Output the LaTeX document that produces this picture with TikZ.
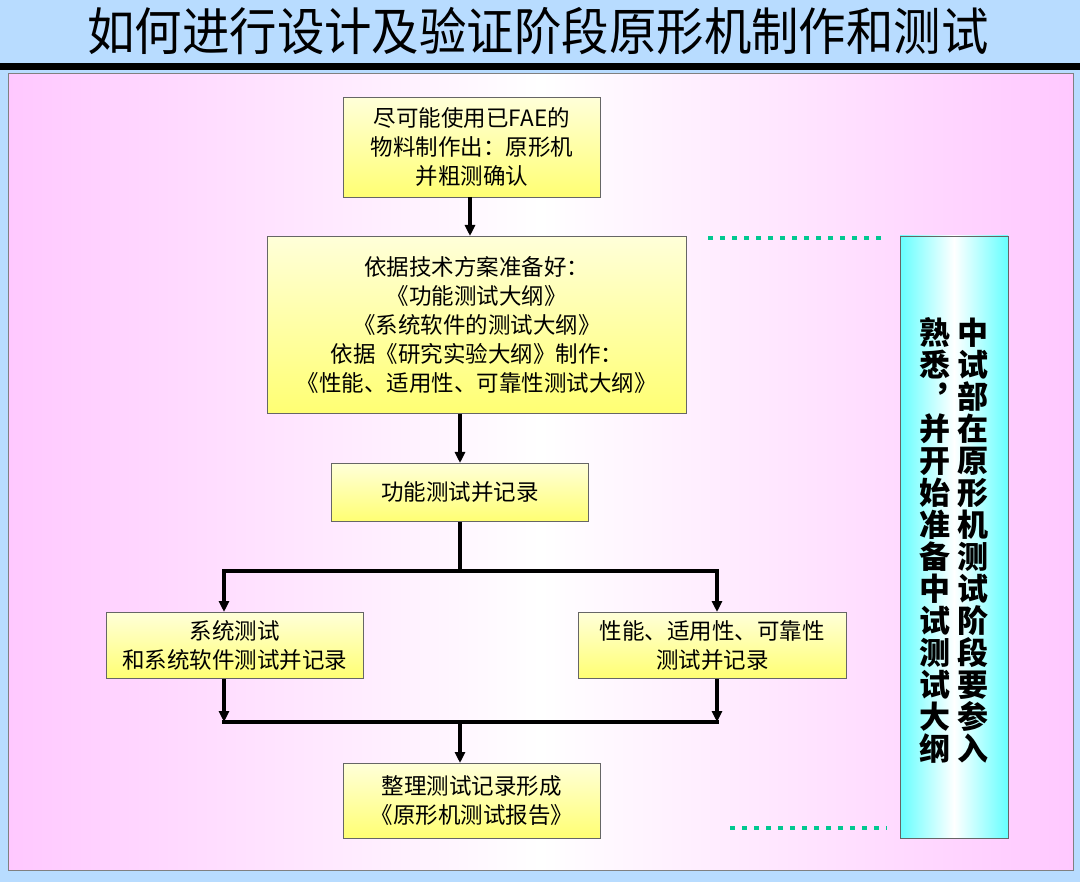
\documentclass[tikz,border=0pt]{standalone}
\usepackage{fontspec}
\setmainfont{Noto Sans CJK SC}
\usetikzlibrary{arrows.meta}
\definecolor{bgblue}{HTML}{B8DCFF}
\definecolor{pinkp}{HTML}{FFC8FF}
\definecolor{teal1}{HTML}{00C890}
\tikzset{
  ybox/.style={draw=black!60,line width=0.8pt,top color=yellow!15,bottom color=yellow!55,
    align=center,font=\fontsize{22.5}{29}\selectfont,inner sep=0pt,anchor=north west},
  arr/.style={line width=3.2pt,-{Triangle[length=11pt,width=10pt]}},
  ln/.style={line width=3.2pt},
  dots/.style={teal1,line width=4pt,dash pattern=on 5pt off 7pt}
}
\begin{document}
\begin{tikzpicture}[x=1pt,y=-1pt]
\fill[bgblue] (0,0) rectangle (1080,882);
\useasboundingbox (0,0) rectangle (1080,882);
\node[font=\fontsize{51}{54}\selectfont,xscale=0.93] (title) at (538,31) {如何进行设计及验证阶段原形机制作和测试};
\fill[black] (0,63) rectangle (1080,70);
\shade[left color=pinkp,right color=pinkp,middle color=white] (8,74) rectangle (1073,870);
\draw[black!50,line width=1pt] (8,74) rectangle (1073,870);
\node[ybox,minimum width=257pt,minimum height=100pt] (b1) at (343,97) {尽可能使用已FAE的\\物料制作出：原形机\\并粗测确认};
\node[ybox,minimum width=419pt,minimum height=177pt] (b2) at (267,236) {依据技术方案准备好：\\《功能测试大纲》\\《系统软件的测试大纲》\\依据《研究实验大纲》制作：\\《性能、适用性、可靠性测试大纲》};
\node[ybox,minimum width=257pt,minimum height=58pt] (b3) at (331,463) {功能测试并记录};
\node[ybox,minimum width=257pt,minimum height=66pt] (b4) at (106,612) {系统测试\\和系统软件测试并记录};
\node[ybox,minimum width=268pt,minimum height=66pt] (b5) at (578,612) {性能、适用性、可靠性\\测试并记录};
\node[ybox,minimum width=257pt,minimum height=75pt] (b6) at (343,763) {整理测试记录形成\\《原形机测试报告》};
\coordinate (s1) at (224,571); \coordinate (s2) at (717,571);
\coordinate (j1) at (224,722); \coordinate (j2) at (717,722);
\draw[arr] (470,197) -- (470,236);
\draw[arr] (b2.south -| 460,0) -- (b3.north -| 460,0);
\draw[ln] (b3.south -| 460,0) -- (460,571);
\draw[ln] ([xshift=-1.6pt]s1) -- ([xshift=1.6pt]s2);
\draw[arr] (s1) -- (b4.north -| s1);
\draw[arr] (s2) -- (b5.north -| s2);
\draw[arr] (b4.south -| j1) -- (j1);
\draw[arr] (b5.south -| j2) -- (j2);
\draw[ln] ([xshift=-1.6pt]j1) -- ([xshift=1.6pt]j2);
\draw[arr] (460,722) -- (b6.north -| 460,0);
\shade[left color=cyan!60,right color=cyan!60,middle color=white] (900,236) rectangle (1008,838);
\draw[black!60,line width=0.8pt] (900,236) rectangle (1008,838);
\node[font=\fontsize{31}{32}\bfseries\selectfont,align=center,anchor=north] (c1) at (973,314) {中\\试\\部\\在\\原\\形\\机\\测\\试\\阶\\段\\要\\参\\入};
\node[font=\fontsize{31}{32}\bfseries\selectfont,align=center,anchor=north] (c2) at (935,314) {熟\\悉\\︐\\并\\开\\始\\准\\备\\中\\试\\测\\试\\大\\纲};
\draw[dots] (708,238) -- (887,238);
\draw[dots] (730,828) -- (887,828);
\end{tikzpicture}
\end{document}
